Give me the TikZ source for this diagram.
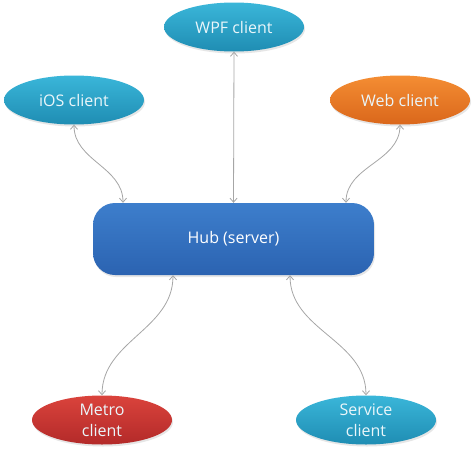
\documentclass[tikz,border=0pt]{standalone}
\usepackage{fontspec}
\setmainfont{Open Sans}
\usetikzlibrary{shapes.geometric,arrows.meta,shadows}

\definecolor{cyantop}{HTML}{3AB6D9}
\definecolor{cyanbot}{HTML}{1F8DB3}
\definecolor{orangetop}{HTML}{F48D33}
\definecolor{orangebot}{HTML}{DA671B}
\definecolor{redtop}{HTML}{DA433C}
\definecolor{redbot}{HTML}{B32A29}
\definecolor{hubtop}{HTML}{3D7ECC}
\definecolor{hubbot}{HTML}{2B63B1}
\definecolor{linkgray}{HTML}{A6A6A6}
\definecolor{labeltext}{HTML}{EAF6FA}

\tikzset{
  client/.style={ellipse, minimum width=140pt, minimum height=49pt, inner sep=0pt,
    text=labeltext, align=center, font=\fontsize{16}{21}\selectfont,
    drop shadow={opacity=0.2, shadow xshift=1pt, shadow yshift=-2pt}},
  link/.style={draw=linkgray, line width=0.8pt, {Straight Barb[length=4pt,width=7pt]}-{Straight Barb[length=4pt,width=7pt]}}
}

\begin{document}
\begin{tikzpicture}[x=1pt,y=-1pt]
\useasboundingbox (0,0) rectangle (474,455);

\node[client, top color=cyantop, bottom color=cyanbot] (wpf) at (234,27) {WPF client};
\node[client, top color=cyantop, bottom color=cyanbot] (ios) at (74,100) {iOS client};
\node[client, top color=orangetop, bottom color=orangebot] (web) at (400,100) {Web client};
\node[client, top color=redtop, bottom color=redbot] (metro) at (102,420) {Metro\\client};
\node[client, top color=cyantop, bottom color=cyanbot] (service) at (366,420) {Service\\client};

\node[rectangle, rounded corners=22pt, minimum width=281pt, minimum height=72pt,
  top color=hubtop, bottom color=hubbot, text=white, font=\fontsize{16}{21}\selectfont,
  drop shadow={opacity=0.2, shadow xshift=1pt, shadow yshift=-2pt}] (hub) at (233.5,239) {Hub (server)};

\path[link] (ios.south) to[out=-90,in=90] ([xshift=-110.5pt]hub.north);
\path[link] (wpf.south) -- (hub.north);
\path[link] (web.south) to[out=-90,in=90] ([xshift=112.5pt]hub.north);
\path[link] ([xshift=-60.5pt]hub.south) to[out=-90,in=90] (metro.north);
\path[link] ([xshift=56.5pt]hub.south) to[out=-90,in=90] (service.north);
\end{tikzpicture}
\end{document}
